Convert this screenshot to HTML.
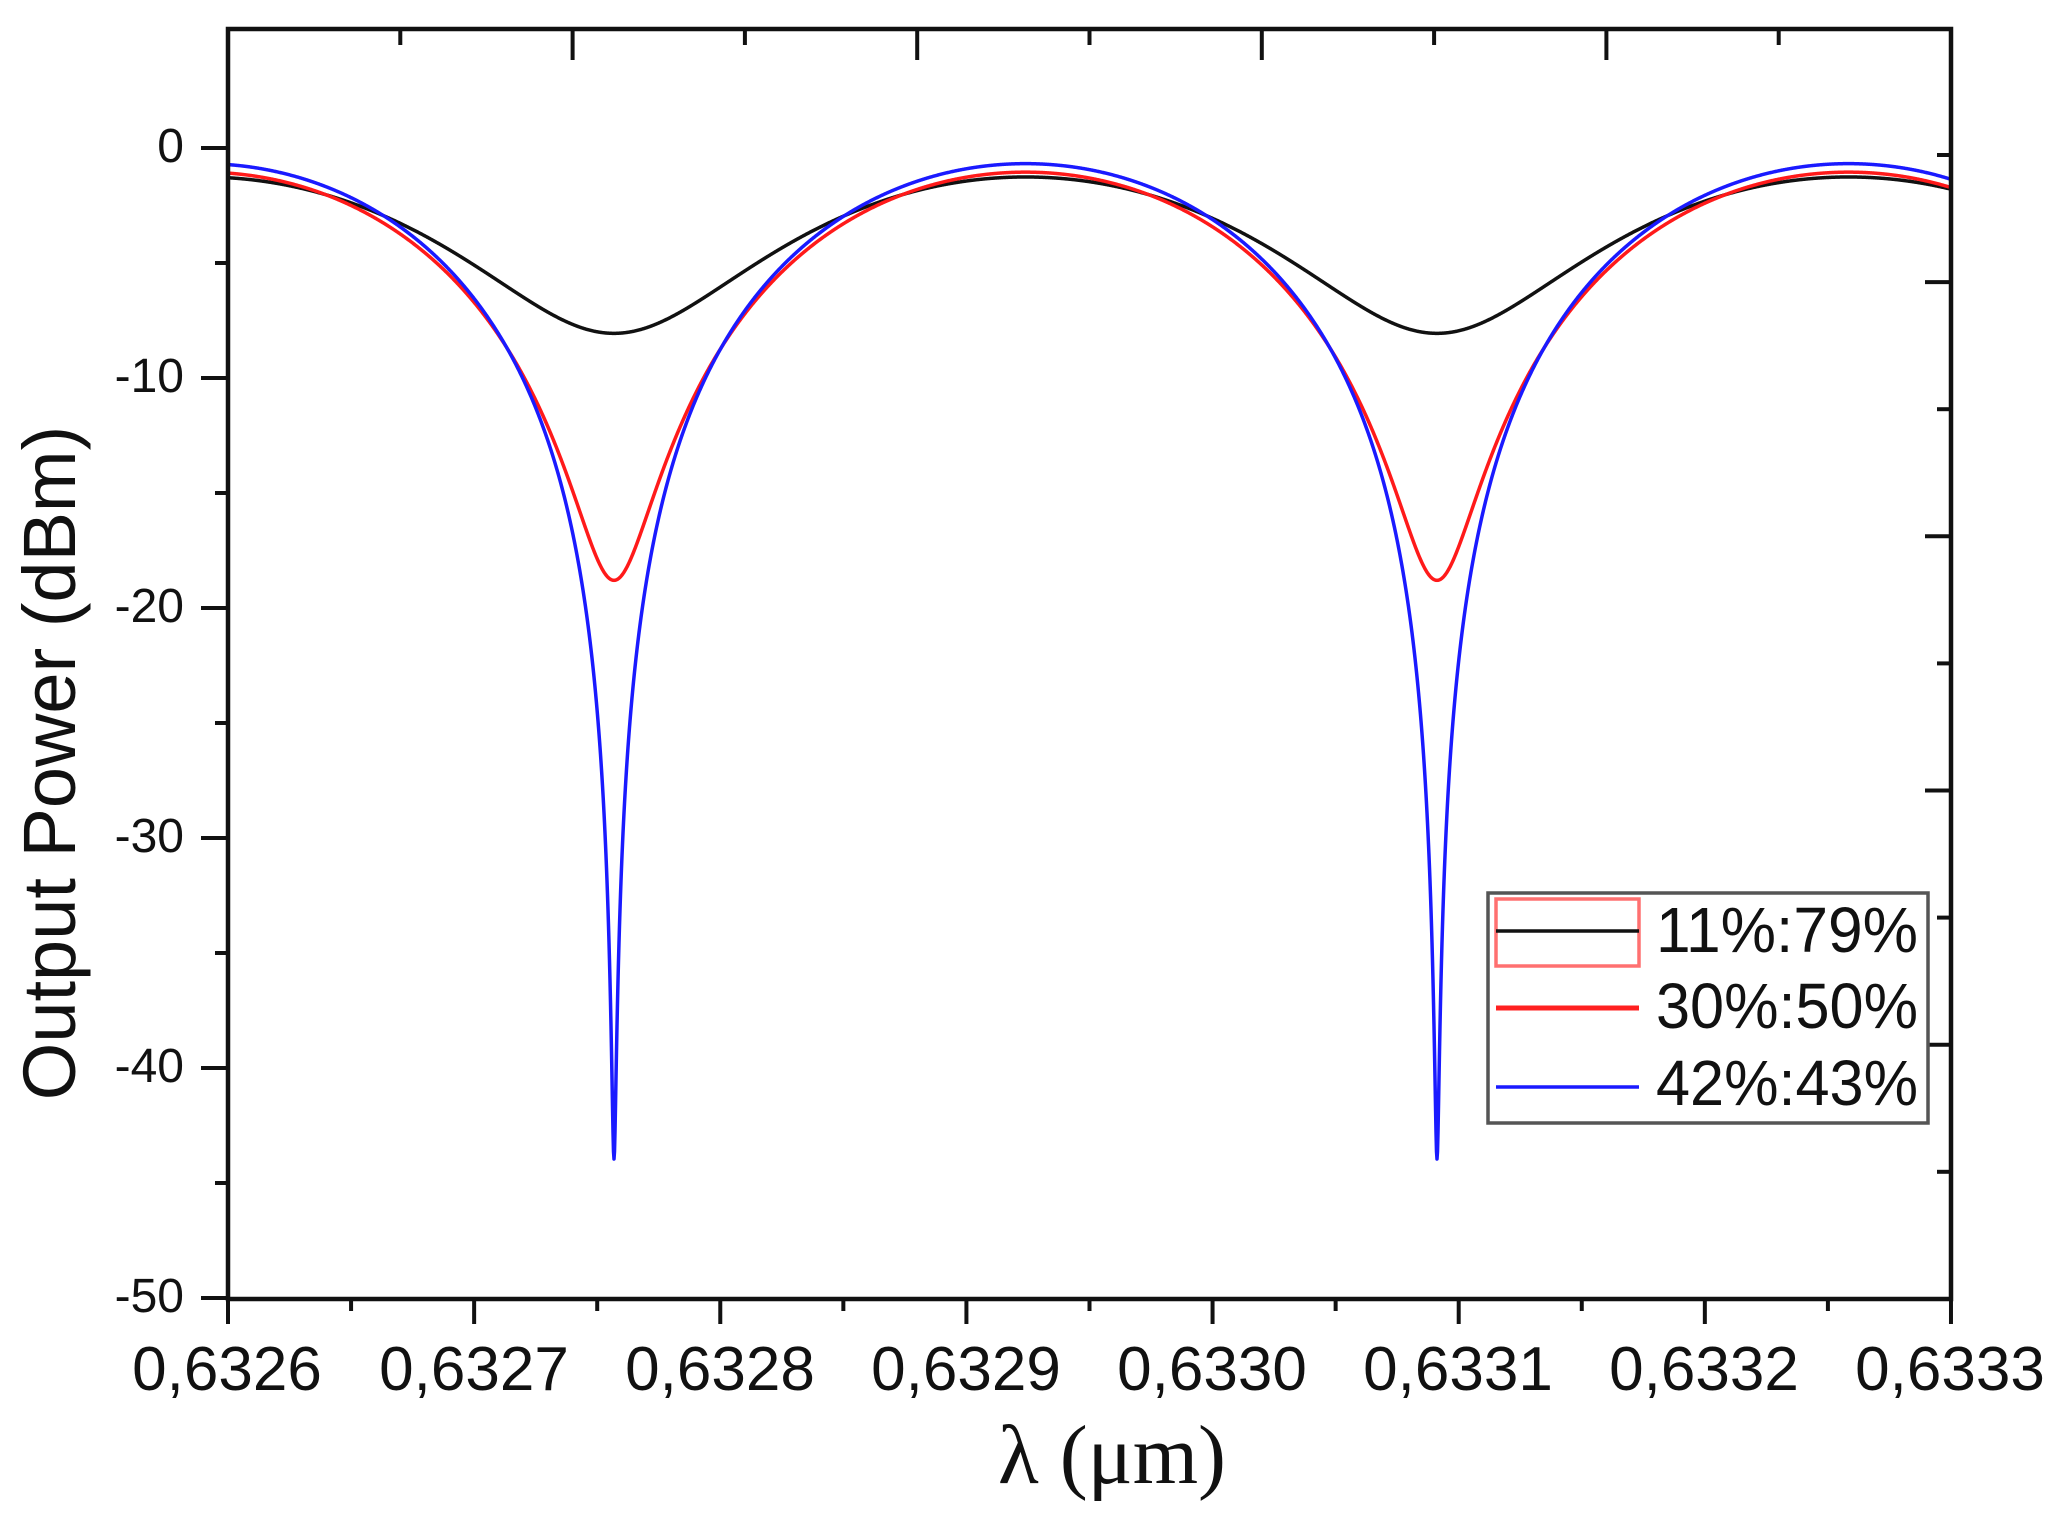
<!DOCTYPE html>
<html><head><meta charset="utf-8"><style>
html,body{margin:0;padding:0;background:#fff;}
svg{display:block;}
</style></head><body>
<svg id="s" width="2070" height="1524" viewBox="0 0 2070 1524" xmlns="http://www.w3.org/2000/svg">
<rect width="2070" height="1524" fill="#fff"/>
<g id="curves" fill="none" stroke-width="3.5" stroke-linejoin="round"></g>
<g id="ticks" stroke="#111" stroke-width="4"></g>
<rect x="228" y="29" width="1723" height="1270" fill="none" stroke="#111" stroke-width="4.5"/>
<g font-family="Liberation Sans, Arial, sans-serif" font-size="48" fill="#111" text-anchor="end">
<text x="184" y="162">0</text>
<text x="184" y="392">-10</text>
<text x="184" y="622">-20</text>
<text x="184" y="852">-30</text>
<text x="184" y="1082">-40</text>
<text x="184" y="1312">-50</text>
</g>
<g font-family="Liberation Sans, Arial, sans-serif" font-size="62" fill="#111" text-anchor="middle">
<text x="227" y="1390">0,6326</text>
<text x="474" y="1390">0,6327</text>
<text x="720" y="1390">0,6328</text>
<text x="966" y="1390">0,6329</text>
<text x="1212" y="1390">0,6330</text>
<text x="1458" y="1390">0,6331</text>
<text x="1704" y="1390">0,6332</text>
<text x="1950" y="1390">0,6333</text>
</g>
<text transform="translate(75,763) rotate(-90)" font-family="Liberation Sans, Arial, sans-serif" font-size="74" fill="#111" text-anchor="middle">Output Power (dBm)</text>
<text x="1112" y="1483" font-family="Liberation Serif, Times New Roman, serif" font-size="84" fill="#111" text-anchor="middle">λ (μm)</text>
<g>
<rect x="1488" y="893" width="440" height="230" fill="#fff" stroke="#555" stroke-width="3.5"/>
<rect x="1496" y="899" width="143" height="67" fill="none" stroke="#ff7070" stroke-width="3.5"/>
<line x1="1496" y1="931" x2="1639" y2="931" stroke="#111" stroke-width="3.5"/>
<line x1="1496" y1="1008" x2="1639" y2="1008" stroke="#ff2020" stroke-width="5"/>
<line x1="1496" y1="1087" x2="1639" y2="1087" stroke="#1a1aff" stroke-width="3.5"/>
<g font-family="Liberation Sans, Arial, sans-serif" font-size="64" fill="#111">
<text x="1656" y="952" textLength="262" lengthAdjust="spacingAndGlyphs">11%:79%</text>
<text x="1656" y="1028" textLength="262" lengthAdjust="spacingAndGlyphs">30%:50%</text>
<text x="1656" y="1105" textLength="262" lengthAdjust="spacingAndGlyphs">42%:43%</text>
</g>
</g>
</svg>
<script>
(function(){
var NS="http://www.w3.org/2000/svg";
var t=document.getElementById('ticks');
function L(x1,y1,x2,y2){var l=document.createElementNS(NS,'line');l.setAttribute('x1',x1);l.setAttribute('y1',y1);l.setAttribute('x2',x2);l.setAttribute('y2',y2);t.appendChild(l);}
for(var k=0;k<=10;k++){var y=148+k*115;L(k%2?215:201,y,228,y);}
for(var k=0;k<=14;k++){var x=228+k*123.07;L(x,1299,x,k%2?1311:1324);}
for(var k=0;k<10;k++){var x=228+k*172.3;L(x,29,x,k%2?45:60);}
for(var k=0;k<9;k++){var y=155+k*127.1;L(k%2?1925:1937,y,1951,y);}
var g=document.getElementById('curves');
function curve(R0,peak,col){
  var d="";
  for(var x=228;x<=1951;x+=0.5){
    var s=Math.sin(Math.PI*(x-614)/823);s=s*s;
    var db=peak+10*Math.log10(R0+(1-R0)*s);
    var y=148-db*23;
    d+=(d?"L":"M")+x.toFixed(1)+" "+y.toFixed(2);
  }
  var p=document.createElementNS(NS,'path');p.setAttribute('d',d);p.setAttribute('stroke',col);g.appendChild(p);
}
curve(0.209,-1.26,"#111");
curve(0.0168,-1.05,"#ff1a1a");
curve(4.7e-5,-0.68,"#1a1aff");
})();
</script>
</body></html>
